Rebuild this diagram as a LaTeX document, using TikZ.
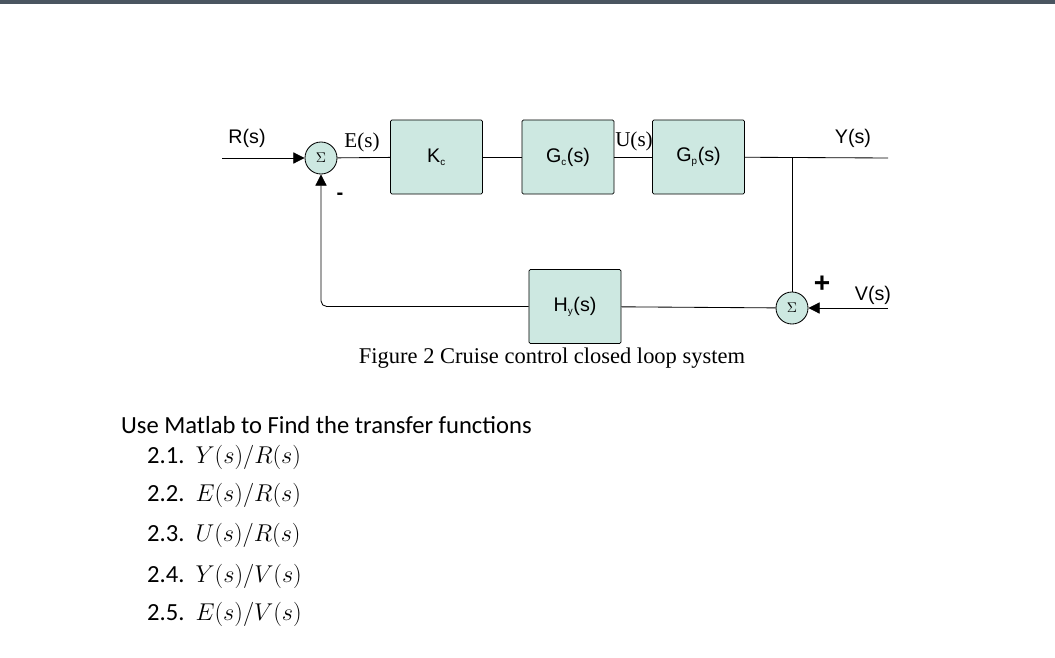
\documentclass[tikz,border=0pt]{standalone}
\usepackage{fontspec}
\setmainfont{Liberation Sans}
\newfontfamily\serifed{Liberation Serif}
\newfontfamily\bodyfont{Carlito}
\usetikzlibrary{arrows.meta,positioning}
\definecolor{boxfill}{HTML}{CDE8E1}
\definecolor{topbar}{HTML}{4A5560}
\tikzset{
    block/.style={draw, rectangle, fill=boxfill, rounded corners=1pt, minimum width=2.3cm, minimum height=1.85cm, font=\fontsize{14}{16}\selectfont},
    sum/.style={draw, circle, fill=boxfill, minimum size=0.8cm, inner sep=0pt, font=\normalsize},
    sig/.style={font=\fontsize{14}{16}\selectfont},
    item/.style={font=\bodyfont\fontsize{17.5}{20}\selectfont, anchor=west}
}
\begin{document}
\begin{tikzpicture}[x=0.025cm,y=-0.025cm,semithick,>={Triangle[length=8pt,width=8pt]}]
    \useasboundingbox (0,0) rectangle (1055,658);
    \fill[topbar] (0,0) rectangle (1055,4);
    % Nodes
    \node [sum] (sum1) at (321,158) {$\Sigma$};
    \node [block] (kc) at (436.5,157) {K\textsubscript{\scriptsize c}};
    \node [block] (gc) at (568,157) {G\textsubscript{\scriptsize c}(s)};
    \node [block] (gp) at (698.5,157) {G\textsubscript{\scriptsize p}(s)};
    \node [block] (hy) at (575,306.5) {H\textsubscript{\scriptsize y}(s)};
    \node [sum] (sum2) at (792,308) {$\Sigma$};
    \coordinate (in) at (222,158);
    \coordinate (out) at (888,158);
    \coordinate (branch) at (792,158);
    \coordinate (vin) at (888,308);
    % Labels
    \node [sig] (r) at (247,138) {R(s)};
    \node [sig, font=\serifed\fontsize{15}{17}\selectfont] (e) at (362,142) {E(s)};
    \node [sig, font=\serifed\fontsize{15}{17}\selectfont] (u) at (634,141) {U(s)};
    \node [sig] (y) at (853,138) {Y(s)};
    \node [sig] (v) at (873,295) {V(s)};
    \node [font=\fontsize{20}{22}\selectfont\bfseries] (plus) at (822,284) {+};
    \node [font=\Large\bfseries] (minus) at (340,196) {-};
    \node [font=\serifed\fontsize{16}{18}\selectfont] (cap) at (552,358) {Figure 2 Cruise control closed loop system};
    % Arrows
    \draw [->] (in) -- (sum1);
    \draw (sum1) -- (kc);
    \draw (kc) -- (gc);
    \draw (gc) -- (gp);
    \draw (gp) -- (out);
    \draw (branch) -- (sum2);
    \draw [->] (vin) -- (sum2);
    \draw (sum2) -- (hy);
    \draw [->, rounded corners=4pt] (hy) -| (sum1);
    % Text
    \node [item] (task) at (116,425) {Use Matlab to Find the transfer functions};
    \foreach \n/\a/\b/\yy in {1/Y/R/457, 2/E/R/495, 3/U/R/535, 4/Y/V/576, 5/E/V/614}
        \node [item] (q\n) at (142,\yy) {2.\n.\ \ $\a(s)/\b(s)$};
\end{tikzpicture}
\end{document}
